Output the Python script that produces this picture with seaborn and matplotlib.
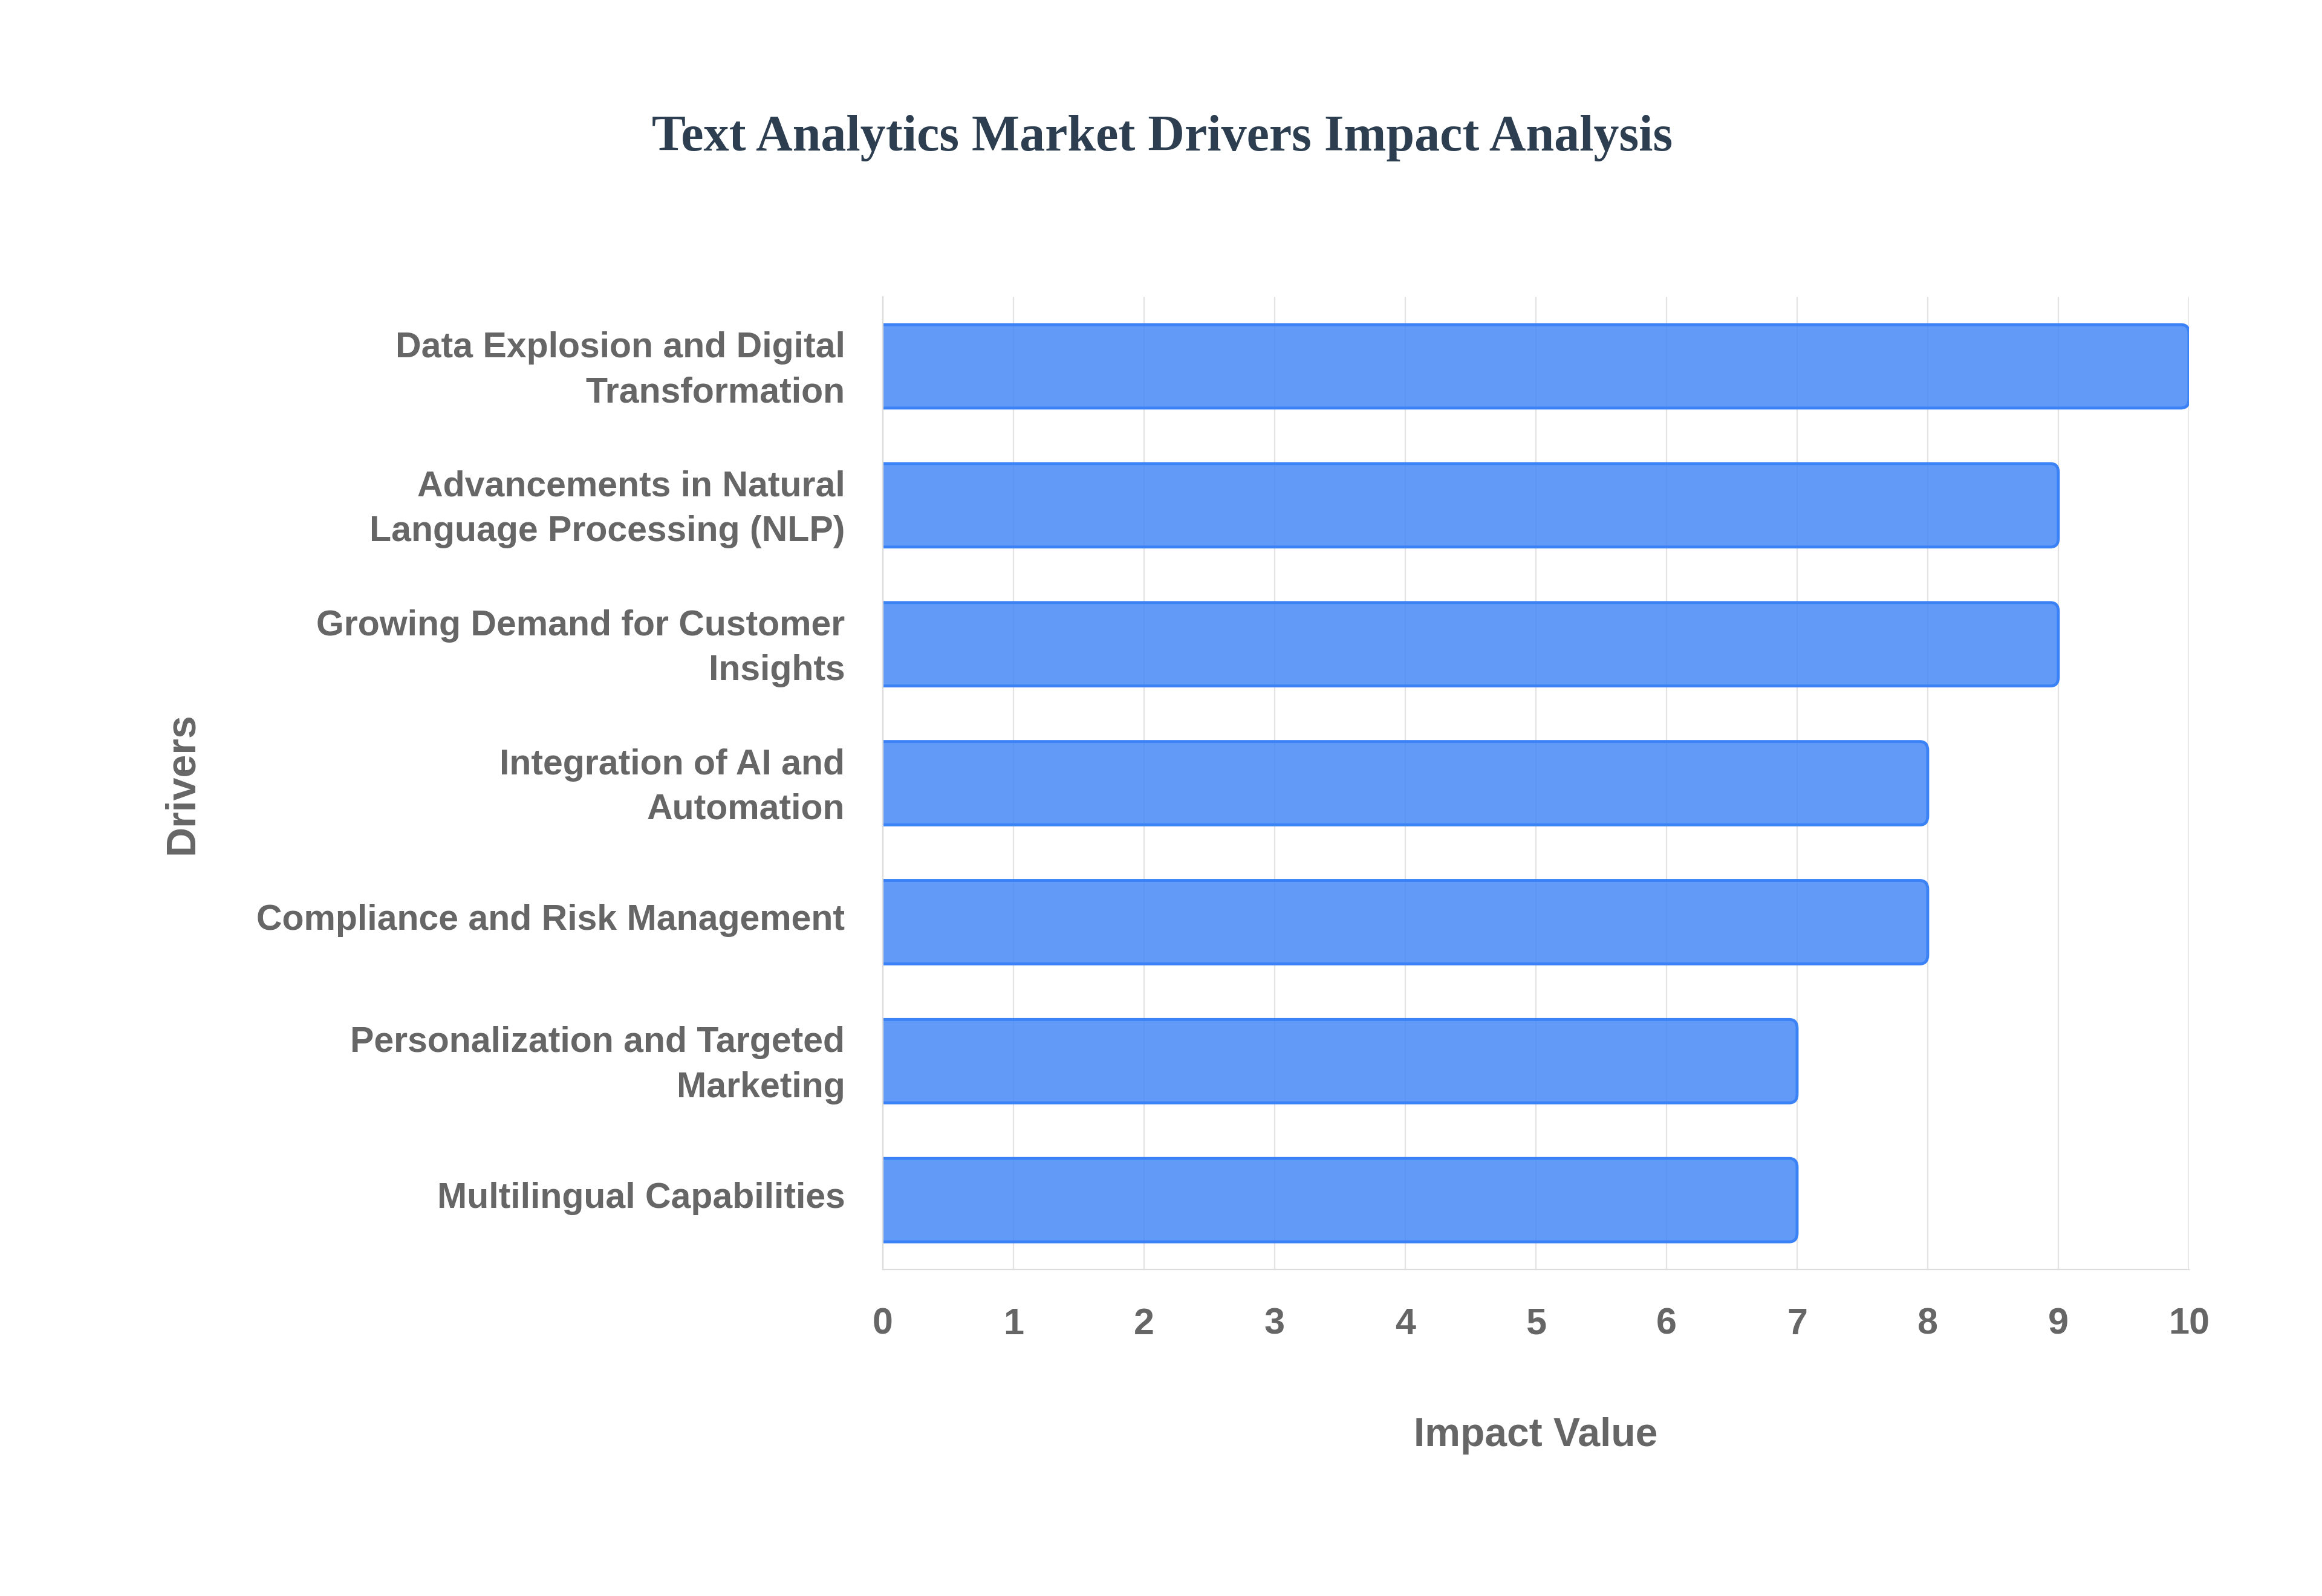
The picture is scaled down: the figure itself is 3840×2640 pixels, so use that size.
import matplotlib
matplotlib.use("Agg")
import matplotlib.pyplot as plt
import matplotlib.transforms as mtransforms
import seaborn as sns
import pandas as pd
from matplotlib.patches import FancyBboxPatch

drivers = [
    "Data Explosion and Digital\nTransformation",
    "Advancements in Natural\nLanguage Processing (NLP)",
    "Growing Demand for Customer\nInsights",
    "Integration of AI and\nAutomation",
    "Compliance and Risk Management",
    "Personalization and Targeted\nMarketing",
    "Multilingual Capabilities",
]
impact = [10, 9, 9, 8, 8, 7, 7]
x_ticks = [0, 1, 2, 3, 4, 5, 6, 7, 8, 9, 10]

sns.set_theme(style="white")
plt.rcParams['font.family'] = ['Liberation Sans', 'DejaVu Sans']

df = pd.DataFrame({"Drivers": drivers, "Impact": impact})

fig = plt.figure(figsize=(38.4, 26.4), dpi=100)
ax = fig.add_axes([0.3802, 0.2045, 0.5625, 0.6095])

face = (59/255, 130/255, 246/255, 0.8)
edge = (59/255, 130/255, 246/255, 1.0)
sns.barplot(data=df, x="Impact", y="Drivers", orient="h", ax=ax,
            color=face, width=0.6, saturation=1, zorder=2)

ax.set_xlim(0, 10)
ax.set_ylim(6.5, -0.5)

# replace rectangles with rounded bars (left corners hidden by axis clip)
px_per_x = 0.5625 * 3840 / 10
px_per_y = 0.6095 * 2640 / 7
r = 13 / px_per_x
aspect = px_per_x / px_per_y
for p in list(ax.patches):
    x0, y0 = p.get_x(), p.get_y()
    w, h = p.get_width(), p.get_height()
    p.remove()
    fb = FancyBboxPatch((x0 - 3 * r, y0), w + 3 * r, h,
                        boxstyle=f"round,pad=0,rounding_size={r}",
                        mutation_aspect=1 / aspect,
                        facecolor=face, edgecolor=edge, linewidth=3.5,
                        zorder=2, clip_on=True)
    ax.add_patch(fb)

ax.set_xticks(x_ticks)
ax.set_xticklabels([str(t) for t in x_ticks])
ax.grid(axis="x", color="#e3e3e3", linewidth=1.6, zorder=0)
ax.grid(axis="y", visible=False)
ax.set_axisbelow(True)

for s in ["top", "right"]:
    ax.spines[s].set_visible(False)
for s in ["left", "bottom"]:
    ax.spines[s].set_visible(True)
    ax.spines[s].set_color("#dcdcdc")
    ax.spines[s].set_linewidth(1.6)

ax.tick_params(axis="x", length=21, width=1.6, color="#e3e3e3", pad=24,
               labelsize=44, labelcolor="#666666")
ax.tick_params(axis="y", length=0, pad=45, labelsize=42.5, labelcolor="#666666")
for lab in ax.get_xticklabels() + ax.get_yticklabels():
    lab.set_fontweight("bold")
offset = mtransforms.ScaledTranslation(0, 9 / 100, fig.dpi_scale_trans)
for lab in ax.get_yticklabels():
    lab.set_linespacing(1.45)
    lab.set_transform(lab.get_transform() + offset)

ax.set_xlabel("Impact Value", fontsize=47.5, fontweight="bold", color="#666666")
ax.set_ylabel("Drivers", fontsize=49, fontweight="bold", color="#666666")
ax.xaxis.set_label_coords(0.5, -0.171)
ax.xaxis.label.set_va("center")
ax.yaxis.set_label_coords(-0.5366, 0.5)
ax.yaxis.label.set_va("center")

fig.text(0.5005, 0.9135, "Text Analytics Market Drivers Impact Analysis",
         ha="center", va="center", fontsize=60.5, fontweight="bold",
         color="#2c3e50", family=["Liberation Serif", "DejaVu Serif"])

fig.savefig("out.png", dpi=100, facecolor="white")
